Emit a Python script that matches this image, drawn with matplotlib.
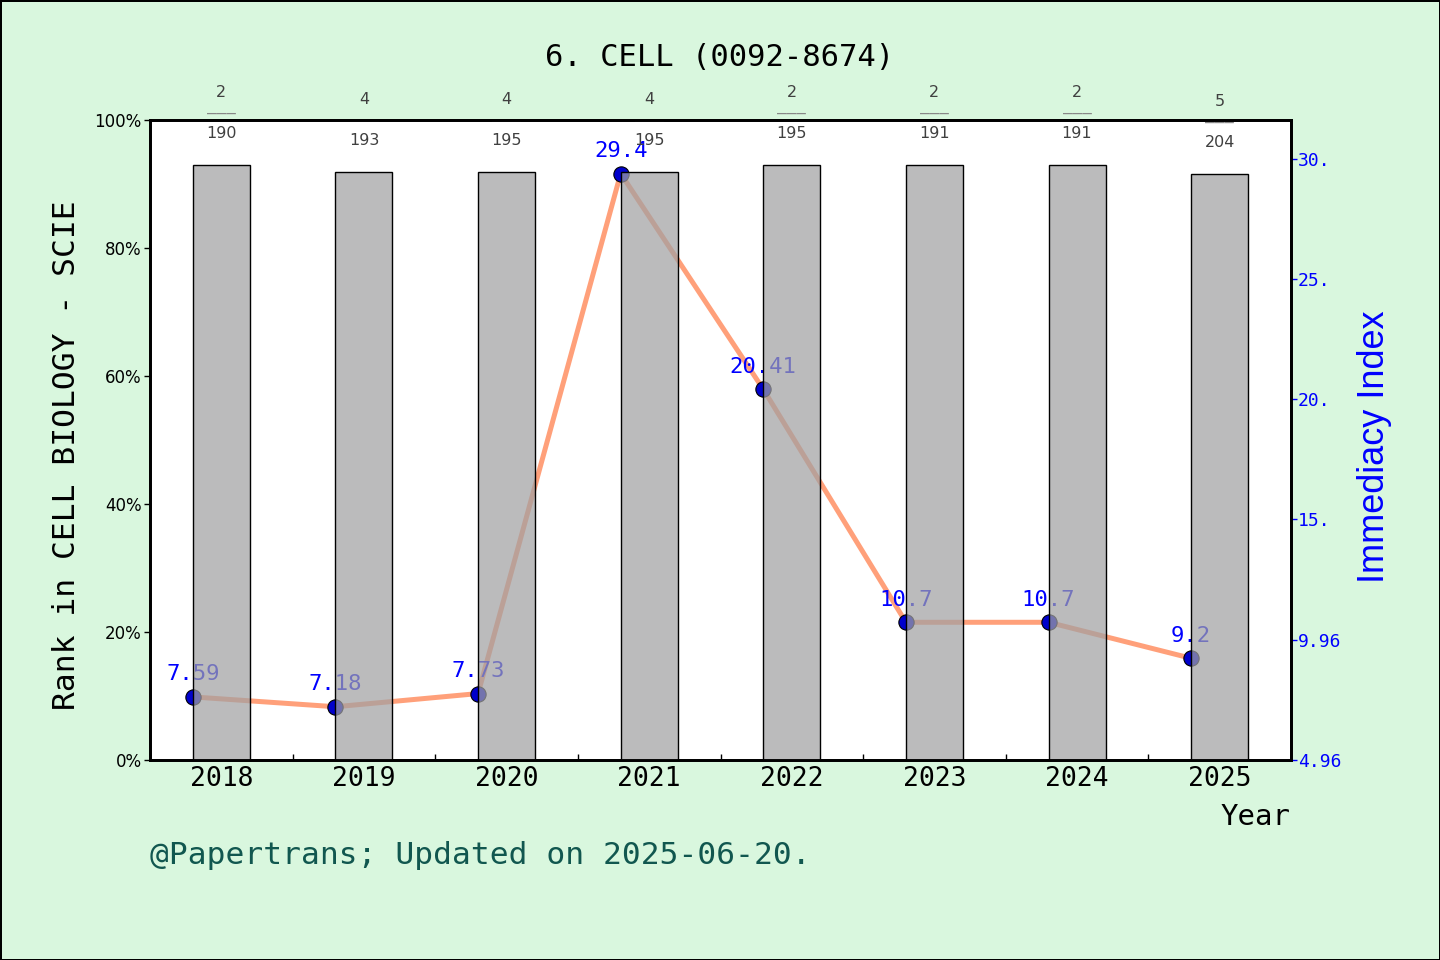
#!/usr/bin/env python3
"""Rank percentile (bars) and Immediacy Index (line) for CELL, 2018-2025."""
import numpy as np
import matplotlib
matplotlib.use("Agg")
import matplotlib.pyplot as plt

YEARS = ["2018", "2019", "2020", "2021", "2022", "2023", "2024", "2025"]
RANK_PCT = [93.0, 91.9, 91.9, 91.9, 93.0, 93.0, 93.0, 91.6]   # bar height, %
RANK = [2, 4, 4, 4, 2, 2, 2, 5]
TOTAL = [190, 193, 195, 195, 195, 191, 191, 204]
IMM_INDEX = [7.59, 7.18, 7.73, 29.4, 20.41, 10.7, 10.7, 9.2]
IMM_LABELS = ["7.59", "7.18", "7.73", "29.4", "20.41", "10.7", "10.7", "9.2"]
RIGHT_TICKS = [4.96, 9.96, 15, 20, 25, 30]
RIGHT_TICK_LABELS = ["4.96", "9.96", "15.", "20.", "25.", "30."]

BG = "#d9f7de"
MONO = "DejaVu Sans Mono"
BAR_W = 0.4


def main():
    fig = plt.figure(figsize=(14.4, 9.6), dpi=100, facecolor=BG,
                     edgecolor="black", linewidth=2)
    ax1 = fig.add_axes([0.1042, 0.2083, 0.7923, 0.6667])
    ax2 = ax1.twinx()
    # bars sit above the line (semi-transparent), so put the bar axes on top
    ax1.set_zorder(ax2.get_zorder() + 1)
    ax1.patch.set_visible(False)
    ax2.patch.set_visible(True)
    ax2.patch.set_facecolor("white")

    x = np.arange(len(YEARS))

    # Immediacy Index line on the right axis
    ax2.plot(x, IMM_INDEX, "-", color="#ffa07a", lw=3.6, zorder=2)
    ax2.plot(x, IMM_INDEX, "o", ms=11, mfc="#0000cc", mec="black", mew=0.8, zorder=3)
    for xi, v, s in zip(x, IMM_INDEX, IMM_LABELS):
        ax2.annotate(s, (xi, v), xytext=(0, 9), textcoords="offset points",
                     ha="center", va="bottom", color="blue", fontsize=16,
                     family=MONO, zorder=4)
    ax2.set_ylim(4.96, 31.63)
    ax2.set_yticks(RIGHT_TICKS)
    ax2.set_yticklabels(RIGHT_TICK_LABELS, family=MONO, fontsize=13)
    ax2.tick_params(axis="y", colors="blue", length=4, width=1, pad=1)

    # rank percentile bars on the left axis, with "rank / total" above each bar
    ax1.bar(x, RANK_PCT, width=BAR_W, align="edge",
            facecolor=(0.63, 0.63, 0.64, 0.72), edgecolor="black", lw=1, zorder=2)
    for xi, h, r, t in zip(x, RANK_PCT, RANK, TOTAL):
        cx = xi + BAR_W / 2
        ym = h + 8.1
        ax1.annotate(str(r), (cx, ym), xytext=(0, 15), textcoords="offset points",
                     ha="center", va="center", color="#404040", fontsize=11.5,
                     zorder=2, annotation_clip=False)
        ax1.annotate("\u2013\u2013\u2013", (cx, ym), xytext=(0, 0),
                     textcoords="offset points", ha="center", va="center",
                     color="#888888", fontsize=11.5, family=MONO, zorder=2,
                     annotation_clip=False)
        ax1.annotate(str(t), (cx, ym), xytext=(0, -15), textcoords="offset points",
                     ha="center", va="center", color="#404040", fontsize=11.5,
                     zorder=2, annotation_clip=False)
    ax1.set_ylim(0, 100)
    ax1.set_yticks(np.arange(0, 101, 20))
    ax1.set_yticklabels([f"{v}%" for v in range(0, 101, 20)])
    ax1.tick_params(axis="y", labelsize=12, length=4, width=1, pad=2)

    ax1.set_xlim(-0.3, 7.7)
    ax1.set_xticks(x + BAR_W / 2)
    ax1.set_xticklabels(YEARS, family=MONO, fontsize=19)
    ax1.set_xticks(x[:-1] + BAR_W / 2 + 0.5, minor=True)
    ax1.tick_params(axis="x", which="major", length=0, pad=4)
    ax1.tick_params(axis="x", which="minor", direction="in", length=4, width=1)

    for ax in (ax1, ax2):
        for sp in ax.spines.values():
            sp.set_linewidth(2)
            sp.set_color("black")

    fig.text(0.5, 0.94, "6. CELL (0092-8674)", ha="center", va="center",
             family=MONO, fontsize=22)
    fig.text(67 / 1440, 1 - 455 / 960, "Rank in CELL BIOLOGY - SCIE", rotation=90,
             ha="center", va="center", family=MONO, fontsize=22.5)
    fig.text(1375 / 1440, 1 - 447 / 960, "Immediacy Index", rotation=90,
             ha="center", va="center", color="blue", family="Liberation Sans",
             fontsize=26)
    fig.text(0.896, 1 - 817 / 960, "Year", ha="right", va="center",
             family=MONO, fontsize=21)
    fig.text(0.104, 1 - 855 / 960, "@Papertrans; Updated on 2025-06-20.",
             ha="left", va="center", family=MONO, fontsize=22.5, color="#11574f")

    fig.savefig("out.png", dpi=100, facecolor=BG, edgecolor="black")


if __name__ == "__main__":
    main()
